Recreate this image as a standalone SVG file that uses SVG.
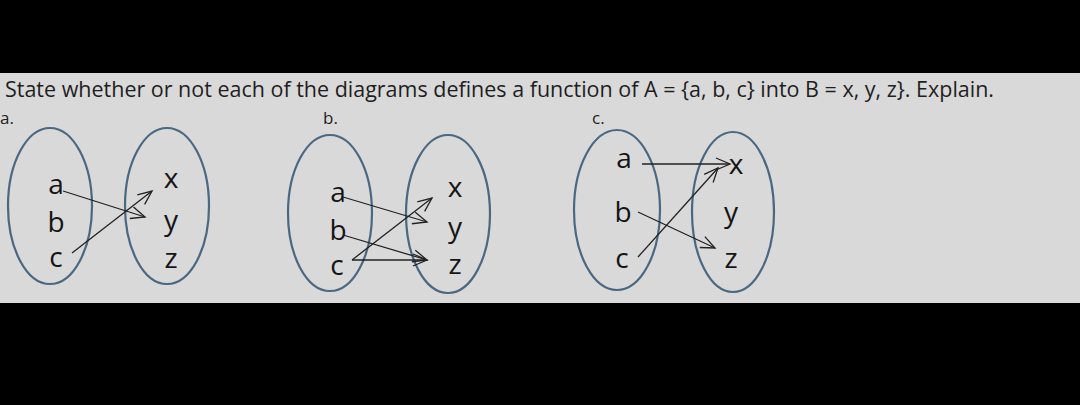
<svg xmlns="http://www.w3.org/2000/svg" width="1080" height="405" viewBox="0 0 1080 405">
<style>
.t{font-family:"Open Sans","Liberation Sans",sans-serif;fill:#1e1e1e}
.lt{font-family:"Open Sans","Liberation Sans",sans-serif;font-size:28px;fill:#151515;text-anchor:middle}
.e{fill:none;stroke:#4a6882;stroke-width:2.2}
.c{fill:none;stroke:#222;stroke-width:1.3;marker-end:url(#ah)}
</style>
<defs>
<marker id="ah" markerUnits="userSpaceOnUse" markerWidth="20" markerHeight="16" refX="15" refY="7" orient="auto">
<path d="M1,1 L15,7 L1,13" fill="none" stroke="#222" stroke-width="1.3"/>
</marker>
</defs>
<rect x="0" y="0" width="1080" height="405" fill="#000"/>
<rect x="0" y="73" width="1080" height="230" fill="#d9d9d9"/>
<text class="t" x="5" y="97" font-size="21" textLength="989" lengthAdjust="spacingAndGlyphs">State whether or not each of the diagrams defines a function of A = {a, b, c} into B = x, y, z}. Explain.</text>
<text class="t" x="0" y="124" font-size="17">a.</text>
<text class="t" x="323" y="124" font-size="17">b.</text>
<text class="t" x="592" y="124" font-size="17">c.</text>

<g id="diagram-a">
<g id="a-setA">
<ellipse class="e" cx="50" cy="206" rx="42" ry="78"/>
<text class="lt" x="56" y="194">a</text>
<text class="lt" x="56" y="232">b</text>
<text class="lt" x="56" y="267">c</text>
</g>
<g id="a-setB">
<ellipse class="e" cx="167" cy="206" rx="42" ry="78"/>
<text class="lt" x="171" y="188">x</text>
<text class="lt" x="171" y="230">y</text>
<text class="lt" x="171" y="268">z</text>
</g>
</g>

<g id="diagram-b">
<g id="b-setA">
<ellipse class="e" cx="330" cy="213" rx="42" ry="78"/>
<text class="lt" x="338" y="202">a</text>
<text class="lt" x="338" y="240">b</text>
<text class="lt" x="337" y="275">c</text>
</g>
<g id="b-setB">
<ellipse class="e" cx="448" cy="214" rx="42" ry="79"/>
<text class="lt" x="455" y="197">x</text>
<text class="lt" x="455" y="237">y</text>
<text class="lt" x="455" y="274">z</text>
</g>
</g>

<g id="diagram-c">
<g id="c-setA">
<ellipse class="e" cx="617" cy="210" rx="43" ry="80"/>
<text class="lt" x="624" y="168">a</text>
<text class="lt" x="623" y="222">b</text>
<text class="lt" x="622" y="268">c</text>
</g>
<g id="c-setB">
<ellipse class="e" cx="733" cy="212" rx="41" ry="80"/>
<text class="lt" x="736" y="174">x</text>
<text class="lt" x="731" y="222">y</text>
<text class="lt" x="731" y="268">z</text>
</g>
</g>

<g id="connectors">
<line class="c" x1="63" y1="191" x2="145" y2="217"/>
<line class="c" x1="72" y1="253" x2="152" y2="191"/>
<line class="c" x1="343" y1="197" x2="427" y2="222"/>
<line class="c" x1="343" y1="235" x2="427" y2="260"/>
<line class="c" x1="352" y1="260" x2="432" y2="198"/>
<line class="c" x1="352" y1="260" x2="427" y2="260"/>
<line class="c" x1="642" y1="164" x2="730" y2="164"/>
<line class="c" x1="638" y1="212" x2="715" y2="248"/>
<line class="c" x1="638" y1="257" x2="718" y2="168"/>
</g>
</svg>
